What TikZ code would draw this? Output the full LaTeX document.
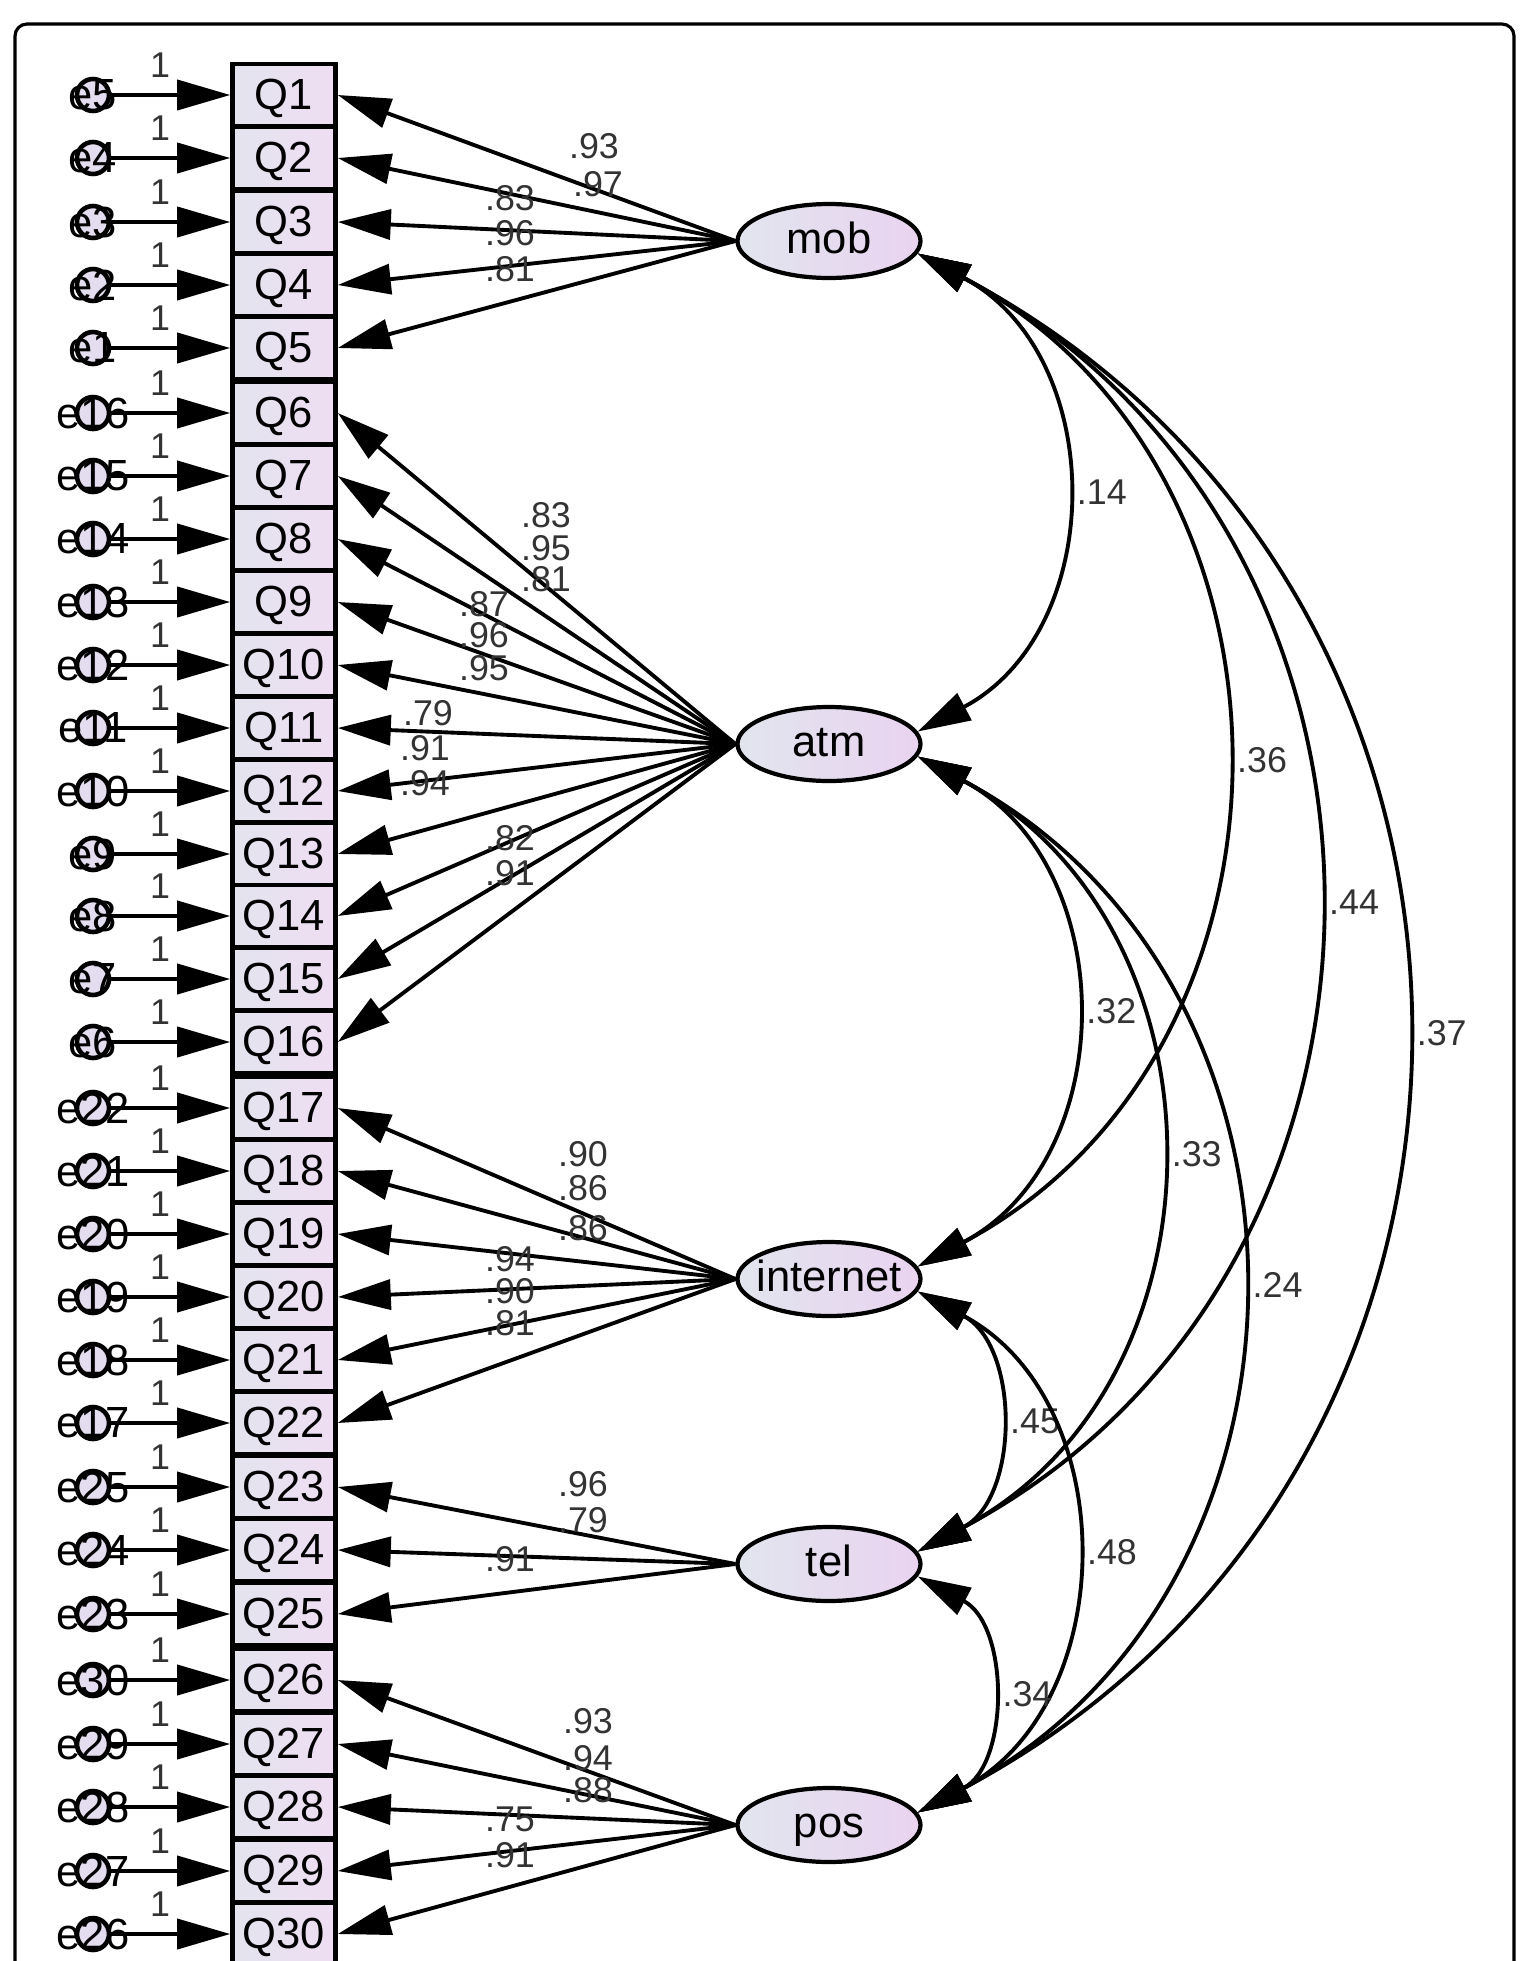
\documentclass[tikz,border=0pt]{standalone}
\usepackage{fontspec}
\setmainfont{Liberation Sans}
\usepackage{xcolor}
\usetikzlibrary{arrows.meta, shapes.geometric}

\definecolor{boxl}{HTML}{E3E4EE}
\definecolor{boxr}{HTML}{EFDDF3}
\definecolor{latl}{HTML}{E1E5EE}
\definecolor{latr}{HTML}{EAD3F0}
\definecolor{errfill}{HTML}{E4DCEF}

\begin{document}
\begin{tikzpicture}[x=0.1mm, y=-0.1mm,
    obs/.style={draw, line width=1.3pt, left color=boxl, right color=boxr, minimum width=10.3mm, minimum height=6.2mm, inner sep=0pt, text height=3.1mm, text depth=0.3mm, font=\fontsize{12.4}{14}\selectfont},
    latent/.style={ellipse, draw, line width=1.2pt, left color=latl, right color=latr, minimum width=18.3mm, minimum height=7.4mm, inner sep=0pt, text height=3.1mm, text depth=0.6mm, font=\fontsize{12.4}{14}\selectfont},
    errc/.style={circle, draw, line width=1.3pt, fill=errfill, minimum size=3.2mm, inner sep=0pt},
    errtxt/.style={inner sep=0pt, font=\fontsize{12.4}{14}\selectfont},
    num/.style={inner sep=0pt, text=black!80, font=\fontsize{10.2}{12}\selectfont},
    tip/.style={-{Triangle[length=5.3mm, width=3mm]}, line width=1.1pt},
    cov/.style={{Triangle[length=5.3mm, width=3mm]}-{Triangle[length=5.3mm, width=3mm]}, line width=1.1pt, bend left=62, looseness=1.16}
]
    \useasboundingbox (0,0) rectangle (1521,1961);

    % Outer frame, cut at the bottom
    \draw[line width=0.9pt, rounded corners=1.2mm] (15,2100) -- (15,24) -- (1514,24) -- (1514,2100);

    % Observed items with their error terms
    \foreach \i/\y/\e in {1/95/5, 2/158/4, 3/222/3, 4/285/2, 5/348/1,
        6/413/16, 7/476/15, 8/539/14, 9/602/13, 10/665/12, 11/728/11, 12/791/10, 13/854/9, 14/916/8, 15/979/7, 16/1042/6,
        17/1108/22, 18/1171/21, 19/1234/20, 20/1297/19, 21/1360/18, 22/1423/17,
        23/1487/25, 24/1550/24, 25/1614/23,
        26/1680/30, 27/1744/29, 28/1807/28, 29/1871/27, 30/1934/26}
    {
        \node[obs] (q\i) at (284,\y) {Q\i};
        \node[errc] (err\i) at (93,\y) {};
        \node[errtxt] (et\i) at (err\i) {e\e};
        \node[num] (one\i) at (160,\y-30) {1};
        \draw[tip] (err\i) -- (q\i);
    }

    % Latent factors
    \foreach \n/\y in {mob/241, atm/744, internet/1279, tel/1564, pos/1825}
        \node[latent] (\n) at (829,\y) {\makebox[0pt]{\n}};

    % Factor loadings
    \foreach \q in {1,...,5} \draw[tip] (mob.west) -- (q\q.east);
    \foreach \q in {6,...,16} \draw[tip] (atm.west) -- (q\q.east);
    \foreach \q in {17,...,22} \draw[tip] (internet.west) -- (q\q.east);
    \foreach \q in {23,24,25} \draw[tip] (tel.west) -- (q\q.east);
    \foreach \q in {26,...,30} \draw[tip] (pos.west) -- (q\q.east);

    % Loading values
    \foreach \n/\x/\y/\v in {1/594/146/.93, 2/598/184/.97, 3/510/198/.83, 4/510/233/.96, 5/510/269/.81,
        6/546/515/.83, 7/546/548/.95, 8/546/579/.81, 9/484/604/.87, 10/484/635/.96, 11/484/668/.95,
        12/428/713/.79, 13/425/748/.91, 14/425/783/.94, 15/510/838/.82, 16/510/873/.91,
        17/583/1154/.90, 18/583/1188/.86, 19/583/1228/.86, 20/510/1259/.94, 21/510/1291/.90, 22/510/1323/.81,
        23/583/1484/.96, 24/583/1520/.79, 25/510/1559/.91,
        26/588/1721/.93, 27/588/1758/.94, 28/588/1790/.88, 29/510/1819/.75, 30/510/1855/.91}
        \node[num] (ld\n) at (\x,\y) {\v};

    % Correlations between factors
    \foreach \a/\b/\v/\lk in {mob/atm/.14/1.16, mob/internet/.36/1.16, mob/tel/.44/1.18, mob/pos/.37/1.2,
        atm/internet/.32/1.16, atm/tel/.33/1.16, atm/pos/.24/1.17,
        internet/tel/.45/1.14, internet/pos/.48/1.14, tel/pos/.34/1.13}
        \draw[cov, looseness=\lk] (\a.-8) to node[num, right=1.4mm] (c\a\b) {\v} (\b.8);
\end{tikzpicture}
\end{document}
